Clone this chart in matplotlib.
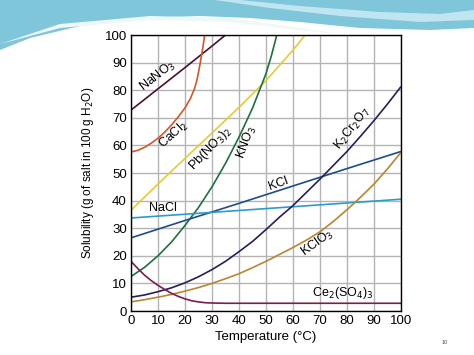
import matplotlib
matplotlib.use("Agg")
import matplotlib.pyplot as plt
from matplotlib.patches import Polygon

plt.rcParams.update({"font.family": ["Liberation Sans", "DejaVu Sans"]})

# solubility curves (temperature in C, g per 100 g water)
nano3_t = [0, 10, 20, 30, 35]
nano3_s = [72.8, 80.5, 88.2, 96.0, 100.0]
cacl2_t = [0, 2.5, 5, 7.5, 10, 12.5, 15, 17.5, 20, 22, 23.5, 24.5, 25.3, 26, 26.7, 27.3]
cacl2_s = [57.6, 58.2, 59.3, 60.8, 62.6, 64.8, 67.4, 70.3, 73.6, 77, 80.5, 84, 88, 92, 96, 100]
pbno3_t = [0, 10, 20, 30, 40, 50, 55, 60, 64.5]
pbno3_s = [36.5, 46, 55.3, 64.5, 73.8, 83.5, 89, 94.5, 100]
kno3_t = [0, 5, 10, 15, 20, 25, 30, 35, 40, 45, 50, 52, 54]
kno3_s = [12.5, 15.8, 20, 25, 31, 37.5, 45, 53.5, 63, 73.5, 86, 92.5, 100]
kcl_t = [0, 20, 40, 60, 80, 100]
kcl_s = [26.5, 32.8, 39, 45.3, 51.6, 57.8]
nacl_t = [0, 50, 100]
nacl_s = [33.7, 37.1, 40.5]
k2cr2o7_t = [0, 5, 10, 15, 20, 25, 30, 35, 40, 45, 50, 55, 60, 65, 70,
             75, 80, 85, 90, 95, 100]
k2cr2o7_s = [5, 5.8, 7, 8.4, 10.2, 12.4, 15, 18, 21.5, 25.2, 29.5, 34, 38.2,
             43, 47.8, 52.8, 57.8, 63.3, 69, 75, 81.3]
kclo3_t = [0, 5, 10, 15, 20, 25, 30, 35, 40, 45, 50, 55, 60, 65, 70,
           75, 80, 85, 90, 95, 100]
kclo3_s = [3.3, 4.1, 5, 6, 7.2, 8.5, 10, 11.7, 13.5, 15.7, 18, 20.5, 23,
           25.7, 28.7, 32.5, 36.7, 41.2, 46, 51.5, 57.5]
ce_t = [0, 2.5, 5, 7.5, 10, 12.5, 15, 17.5, 20, 22.5, 25, 27.5, 30, 35, 100]
ce_s = [18, 15.4, 13, 11, 9.3, 7.8, 6.4, 5.3, 4.4, 3.7, 3.3, 3.0, 2.9, 2.8, 2.8]

W, H = 474, 355
fig = plt.figure(figsize=(W / 100, H / 100), dpi=100)
fig.patch.set_facecolor("white")

# slide decoration across the top
bg = fig.add_axes([0, 0, 1, 1])
bg.set_xlim(0, W); bg.set_ylim(H, 0); bg.axis("off")
bg.add_patch(Polygon([(0, 0), (474, 0), (474, 28), (430, 30), (360, 28),
                      (300, 22), (250, 18), (200, 16), (140, 18), (80, 26),
                      (30, 38), (0, 50)], closed=True, color="#7fc6da", lw=0))
bg.add_patch(Polygon([(215, 0), (240, 0), (300, 6), (380, 12), (440, 14),
                      (474, 10), (474, 20), (420, 22), (340, 16), (270, 8)],
                     closed=True, color="#bfe6f0", lw=0))
bg.add_patch(Polygon([(0, 44), (60, 28), (150, 20), (230, 22), (300, 30),
                      (340, 34), (300, 28), (230, 18), (150, 16), (60, 24)],
                     closed=True, color="#eef8fb", lw=0))
bg.text(445, 343, "10", fontsize=4, color="#445566", ha="center", va="center")

ax = fig.add_axes([131 / W, 1 - 311 / H, 270 / W, 276 / H])
ax.set_xlim(0, 100); ax.set_ylim(0, 100)
ax.set_xticks(range(0, 101, 10)); ax.set_yticks(range(0, 101, 10))
ax.grid(True, color="#b4b4b4", lw=1.0)
ax.set_axisbelow(True)
ax.tick_params(length=0, labelsize=9.5, pad=3)
for s in ax.spines.values():
    s.set_linewidth(1.0)

curves = [
    (nano3_t, nano3_s, "#4a1030"),
    (cacl2_t, cacl2_s, "#d4572a"),
    (pbno3_t, pbno3_s, "#e6cc30"),
    (kno3_t, kno3_s, "#1d7040"),
    (kcl_t, kcl_s, "#1e4c8a"),
    (nacl_t, nacl_s, "#2a9ccc"),
    (k2cr2o7_t, k2cr2o7_s, "#2a1d5c"),
    (kclo3_t, kclo3_s, "#b8862e"),
    (ce_t, ce_s, "#7a1e4e"),
]
for t, s, c in curves:
    ax.plot(t, s, color=c, lw=1.2, solid_capstyle="butt")

labels = [
    ("NaNO$_3$", 10, 85, 38),
    ("CaCl$_2$", 16, 64, 42),
    ("Pb(NO$_3$)$_2$", 29.5, 59, 46),
    ("KNO$_3$", 43, 61, 70),
    ("K$_2$Cr$_2$O$_7$", 82, 66, 52),
    ("KCl", 54.5, 46, 20),
    ("NaCl", 12, 37.5, 0),
    ("KClO$_3$", 69, 24.5, 36),
    ("Ce$_2$(SO$_4$)$_3$", 78.5, 6.5, 0),
]
for txt, x, y, r in labels:
    ax.text(x, y, txt, fontsize=9, rotation=r, ha="center", va="center",
            rotation_mode="anchor")

ax.set_xlabel("Temperature (\u00b0C)", fontsize=9.5, labelpad=3)
ax.set_ylabel("Solubility (g of salt in 100 g H$_2$O)", fontsize=8.5,
              labelpad=6)

fig.savefig("out.png", dpi=100)
